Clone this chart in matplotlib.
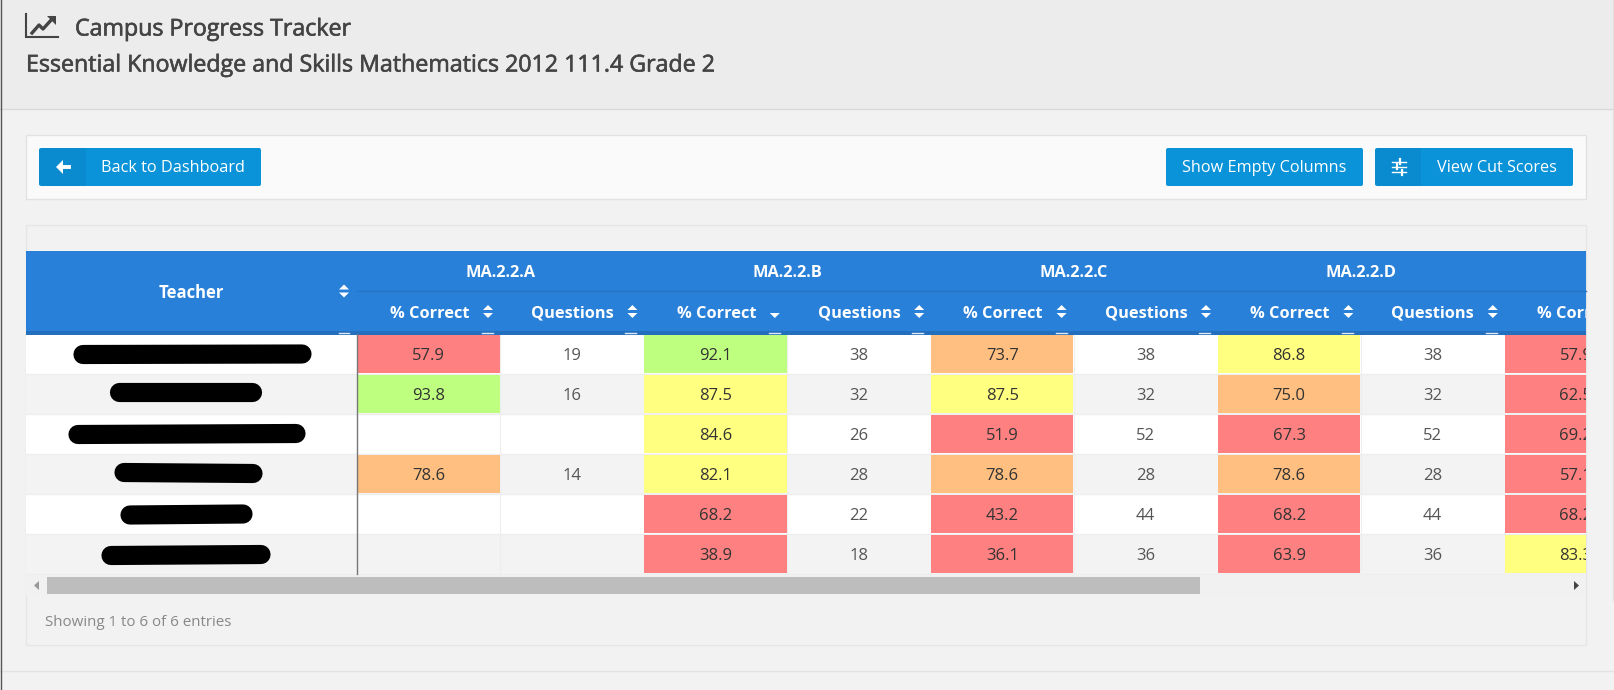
import matplotlib
matplotlib.use("Agg")
import matplotlib.pyplot as plt
import matplotlib.patheffects as pe
from matplotlib.patches import Rectangle, FancyBboxPatch

plt.rcParams['font.family'] = ['Open Sans', 'DejaVu Sans']

# table data
standards = ["MA.2.2.A", "MA.2.2.B", "MA.2.2.C", "MA.2.2.D", "MA.2.2.E"]
pct_a = [57.9, 93.8, None, 78.6, None, None]
qs_a = [19, 16, None, 14, None, None]
pct_b = [92.1, 87.5, 84.6, 82.1, 68.2, 38.9]
qs_b = [38, 32, 26, 28, 22, 18]
pct_c = [73.7, 87.5, 51.9, 78.6, 43.2, 36.1]
qs_c = [38, 32, 52, 28, 44, 36]
pct_d = [86.8, 75.0, 67.3, 78.6, 68.2, 63.9]
qs_d = [38, 32, 52, 28, 44, 36]
pct_e = [57.9, 62.5, 69.2, 57.1, 68.2, 83.3]

# layout, in screenshot pixels
W, H = 1615, 690
PANEL_L, PANEL_R = 26, 1586
COL_L = 357
COL_W = 143.4
HEAD_T, HEAD_M, HEAD_B = 251, 291, 334
ROW_H = 40

RED, ORANGE, YELLOW, GREEN = "#ff8080", "#ffbf80", "#ffff80", "#bfff80"
BLUE = "#2980d9"
BTN = "#0a93d9"
BTN_DARK = "#0a8bd0"
DARK = "#444444"


def cut_colour(v):
    if v < 70:
        return RED
    if v < 80:
        return ORANGE
    if v < 90:
        return YELLOW
    return GREEN


fig = plt.figure(figsize=(W / 100, H / 100), dpi=100, facecolor="#f2f2f2")
ax = fig.add_axes([0, 0, 1, 1])
ax.set_xlim(0, W)
ax.set_ylim(H, 0)
ax.axis("off")


def box(x0, y0, x1, y1, fc, ec="none", lw=0, z=1):
    r = Rectangle((x0, y0), x1 - x0, y1 - y0, fc=fc, ec=ec, lw=lw, zorder=z)
    ax.add_patch(r)
    return r


def sort_arrows(x, y, up=True, down=True):
    if up:
        ax.fill([x - 5, x + 5, x], [y - 1.5, y - 1.5, y - 6.5], color="white", lw=0, zorder=6)
    if down:
        ax.fill([x - 5, x + 5, x], [y + 1.5, y + 1.5, y + 6.5], color="white", lw=0, zorder=6)


# page background
box(0, 0, W, 109, "#ececec")
ax.plot([0, W], [109, 109], color="#d9d9d9", lw=1, zorder=2)
ax.plot([1, 1], [0, H], color="#555555", lw=1, zorder=9)
ax.plot([1613, 1613], [0, 600], color="#e2e2e2", lw=1, zorder=2)
ax.plot([0, W], [671, 671], color="#e2e2e2", lw=1, zorder=2)

# title block
semi = [pe.withStroke(linewidth=0.45, foreground=DARK)]
ax.plot([26.5, 26.5, 58], [14, 37, 37], color=DARK, lw=1.5, zorder=3, solid_joinstyle="miter")
ax.plot([32, 39, 43, 53], [33, 25, 29, 18], color=DARK, lw=2.4, zorder=3)
ax.fill([47, 56, 56], [16, 16, 25], color=DARK, lw=0, zorder=3)
ax.text(75, 29.5, "Campus Progress Tracker", fontsize=16.7, color=DARK, va="center", path_effects=semi)
ax.text(26, 65.5, "Essential Knowledge and Skills Mathematics 2012 111.4 Grade 2",
        fontsize=16.7, color=DARK, va="center", path_effects=semi)

# toolbar panel
box(PANEL_L, 135, PANEL_R, 199, "#fafafa", ec="#e2e2e2", lw=1)


def button(x0, x1, label, icon_w=0, tx=None):
    ax.add_patch(FancyBboxPatch((x0 + 2, 150), x1 - x0 - 4, 34, boxstyle="round,pad=2,rounding_size=2",
                                fc=BTN, ec="none", zorder=3))
    if icon_w:
        box(x0 + 2, 148, x0 + icon_w, 186, BTN_DARK, z=4)
        box(x0, 150, x0 + 2, 184, BTN_DARK, z=4)
    ax.text(tx if tx else (x0 + x1) / 2, 168.5, label, color="white", fontsize=11.7,
            va="center", ha="left" if tx else "center", zorder=5)


button(39, 261, "Back to Dashboard", 47, 101)
ax.plot([69, 61], [167, 167], color="white", lw=2.8, zorder=6)
ax.fill([56, 63, 63], [167, 160, 174], color="white", lw=0, zorder=6)
button(1166, 1363, "Show Empty Columns")
button(1375, 1573, "View Cut Scores", 46, 1437)
for yy, xk in zip([161.7, 166.7, 172.3], [1400.5, 1397, 1402]):
    ax.plot([1392, 1406], [yy, yy], color="white", lw=1.0, zorder=6)
    ax.plot([xk, xk], [yy - 2.5, yy + 2.5], color="white", lw=1.6, zorder=6)

# table panel
box(PANEL_L, 225, PANEL_R, 645, "#f2f2f2", ec="#e6e6e6", lw=1)

# header
box(PANEL_L, HEAD_T, PANEL_R, HEAD_B + 1, BLUE, z=5)
box(PANEL_L, HEAD_B - 3, PANEL_R, HEAD_B + 1, "#236fbe", z=5)
ax.plot([COL_L, PANEL_R], [HEAD_M, HEAD_M], color="#2674c6", lw=1, zorder=5)
HEAD_FONT = 11.8
ax.text(191, 293, "Teacher", color="white", fontsize=12, weight="bold", ha="center", va="center", zorder=7)
sort_arrows(344, 291)
ax.plot([339, 349], [333, 333], color="#dfe9f5", lw=1, zorder=6)

# the table scrolls sideways, so the last column is cut at the panel edge
clip = Rectangle((0, 0), PANEL_R, H, transform=ax.transData)

pct_cols = [pct_a, pct_b, pct_c, pct_d, pct_e]
qs_cols = [qs_a, qs_b, qs_c, qs_d, None]

for i, s in enumerate(standards):
    x = COL_L + 2 * i * COL_W
    if i < 4:
        ax.text(x + COL_W, 273, s, color="white", fontsize=HEAD_FONT, weight="bold",
                ha="center", va="center", zorder=7)
    # sub headers
    t = ax.text(x + 72.5, 313.5, "% Correct", color="white", fontsize=HEAD_FONT, weight="bold",
                ha="center", va="center", zorder=7, clip_on=True)
    t.set_clip_path(clip)
    if i < 4:
        if i == 1:
            sort_arrows(x + 131, 311.5, up=False)
        else:
            sort_arrows(x + 131, 311.5)
        ax.text(x + COL_W + 72, 313.5, "Questions", color="white", fontsize=HEAD_FONT, weight="bold",
                ha="center", va="center", zorder=7)
        sort_arrows(x + COL_W + 132, 311.5)
        ax.plot([x + 125, x + 136], [333, 333], color="#dfe9f5", lw=1, zorder=6)
        ax.plot([x + COL_W + 125, x + COL_W + 136], [333, 333], color="#dfe9f5", lw=1, zorder=6)

# body rows
for r in range(6):
    y0 = HEAD_B + r * ROW_H
    stripe = "white" if r % 2 == 0 else "#f3f3f3"
    box(PANEL_L, y0, PANEL_R, y0 + ROW_H, stripe, z=2)
    ax.plot([PANEL_L, PANEL_R], [y0 + ROW_H, y0 + ROW_H], color="#eeeeee", lw=1, zorder=3)
    for i in range(5):
        x = COL_L + 2 * i * COL_W
        v = pct_cols[i][r]
        if v is not None:
            box(x + 0.5, y0 + 1, min(x + COL_W - 0.5, PANEL_R), y0 + ROW_H - 1, cut_colour(v), z=4)
            t = ax.text(x + COL_W * 0.5, y0 + ROW_H / 2 + 1.5, "%.1f" % v, color="#333333",
                        fontsize=12, ha="center", va="center", zorder=5, clip_on=True)
            t.set_clip_path(clip)
        if i < 4:
            ax.plot([x + COL_W, x + COL_W], [y0, y0 + ROW_H], color="#eeeeee", lw=0.8, zorder=3)
            q = qs_cols[i][r]
            if q is not None:
                ax.text(x + 1.5 * COL_W, y0 + ROW_H / 2 + 1.5, str(q), color="#555555",
                        fontsize=12, ha="center", va="center", zorder=5)

ax.plot([COL_L, COL_L], [HEAD_B, HEAD_B + 6 * ROW_H], color="#777777", lw=1, zorder=6)

# redaction strokes over the teacher names
redact_x0 = [74, 110, 69, 115, 121, 102]
redact_x1 = [311, 261, 305, 262, 252, 270]
redact_y0 = [354.5, 392, 434.5, 472.5, 515, 555.5]
redact_y1 = [354, 392, 433.5, 473.5, 514, 554.5]
for a, b, y0, y1 in zip(redact_x0, redact_x1, redact_y0, redact_y1):
    ax.plot([a + 9, b - 9], [y0, y1], color="black", lw=13.8, solid_capstyle="round", zorder=7)

# scrollbar
box(PANEL_L, 575, PANEL_R, 596, "#f1f1f1", z=3)
box(47, 577, 1200, 594, "#bdbdbd", z=4)
ax.fill([34, 39, 39], [585.5, 581, 590], color="#999999", lw=0, zorder=5)
ax.fill([1579, 1574, 1574], [585.5, 581, 590], color="#444444", lw=0, zorder=5)

ax.text(45, 623, "Showing 1 to 6 of 6 entries", fontsize=10.9, color="#888888", va="center", zorder=5)

fig.savefig("out.png", dpi=100, facecolor=fig.get_facecolor())
